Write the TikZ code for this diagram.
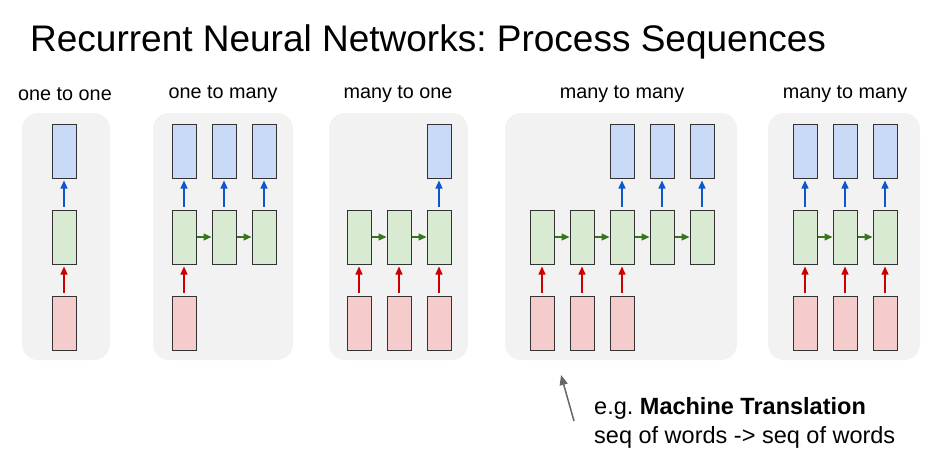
\documentclass[tikz,border=0pt]{standalone}
\usepackage{fontspec}
\setmainfont{Liberation Sans}
\usetikzlibrary{arrows.meta}
\definecolor{pnl}{HTML}{F2F2F2}
\definecolor{inF}{HTML}{F4CCCC}
\definecolor{hidF}{HTML}{D9EAD3}
\definecolor{outF}{HTML}{C9DAF8}
\definecolor{redA}{HTML}{CC0000}
\definecolor{grnA}{HTML}{38761D}
\definecolor{bluA}{HTML}{1155CC}
\begin{document}
\frenchspacing
\begin{tikzpicture}[x=1pt,y=-1pt,
  panel/.style={fill=pnl,rounded corners=16pt},
  box/.style={draw=black!80,line width=1pt,minimum width=24pt,minimum height=54pt,inner sep=0pt},
  inb/.style={box,fill=inF}, hidb/.style={box,fill=hidF}, outb/.style={box,fill=outF},
  ar/.style={-{Triangle[length=8pt,width=7pt]},line width=1.2pt,shorten <=3pt,shorten >=2pt},
  har/.style={ar,grnA,shorten <=0pt,shorten >=0pt},
  lab/.style={font=\fontsize{19.8}{22}\selectfont}]
\useasboundingbox (0,0) rectangle (932,459);
\node[anchor=west,font=\fontsize{37}{42}\selectfont,inner sep=0pt] (title) at (30,42) {Recurrent Neural Networks: Process Sequences};
% panels
\fill[panel] (22,113) rectangle (110,360);
\fill[panel] (153,113) rectangle (293,360);
\fill[panel] (329,113) rectangle (468,360);
\fill[panel] (505,113) rectangle (737,360);
\fill[panel] (768,113) rectangle (920,360);
\node[lab] (l1) at (65,94) {one to one};
\node[lab] (l2) at (223,94) {one to many};
\node[lab] (l3) at (398,94) {many to one};
\node[lab] (l4) at (622,94) {many to many};
\node[lab] (l5) at (845,94) {many to many};
% panel 1
\node[hidb] (h11) at (64,237) {};
\node[inb] (i11) at (64,323) {};
\node[outb] (o11) at (64,151) {};
\draw[ar,redA] (i11) -- (h11); \draw[ar,bluA] (h11) -- (o11);
% panel 2
\foreach \k/\x in {1/184,2/224,3/264}{
  \node[hidb] (h2\k) at (\x,237) {};
  \node[outb] (o2\k) at (\x,151) {};
  \draw[ar,bluA] (h2\k) -- (o2\k);}
\node[inb] (i21) at (184,323) {};
\draw[ar,redA] (i21) -- (h21);
\draw[har] (h21) -- (h22);
\draw[har] (h22) -- (h23);
% panel 3
\foreach \k/\x in {1/359,2/399,3/439}{
  \node[hidb] (h3\k) at (\x,237) {};
  \node[inb] (i3\k) at (\x,323) {};
  \draw[ar,redA] (i3\k) -- (h3\k);}
\node[outb] (o33) at (439,151) {};
\draw[ar,bluA] (h33) -- (o33);
\draw[har] (h31) -- (h32);
\draw[har] (h32) -- (h33);
% panel 4
\foreach \k/\x in {1/542,2/582,3/622,4/662,5/702}{
  \node[hidb] (h4\k) at (\x,237) {};}
\foreach \k/\x in {1/542,2/582,3/622}{
  \node[inb] (i4\k) at (\x,323) {};
  \draw[ar,redA] (i4\k) -- (h4\k);}
\foreach \k/\x in {3/622,4/662,5/702}{
  \node[outb] (o4\k) at (\x,151) {};
  \draw[ar,bluA] (h4\k) -- (o4\k);}
\foreach \a/\b in {1/2,2/3,3/4,4/5}{
  \draw[har] (h4\a) -- (h4\b);}
% panel 5
\foreach \k/\x in {1/805,2/845,3/885}{
  \node[hidb] (h5\k) at (\x,237) {};
  \node[inb] (i5\k) at (\x,323) {};
  \node[outb] (o5\k) at (\x,151) {};
  \draw[ar,redA] (i5\k) -- (h5\k);
  \draw[ar,bluA] (h5\k) -- (o5\k);}
\draw[har] (h51) -- (h52);
\draw[har] (h52) -- (h53);
% annotation
\coordinate (ta) at (574,421);
\coordinate (hd) at (561,375);
\draw[-{Triangle[length=10pt,width=8pt]},line width=1.5pt,black!60] (ta) -- (hd);
\node[anchor=west,align=left,font=\fontsize{23.5}{29}\selectfont,inner sep=0pt] (note) at (594,423)
  {e.g. \textbf{Machine Translation}\\seq of words -> seq of words};
\end{tikzpicture}
\end{document}
